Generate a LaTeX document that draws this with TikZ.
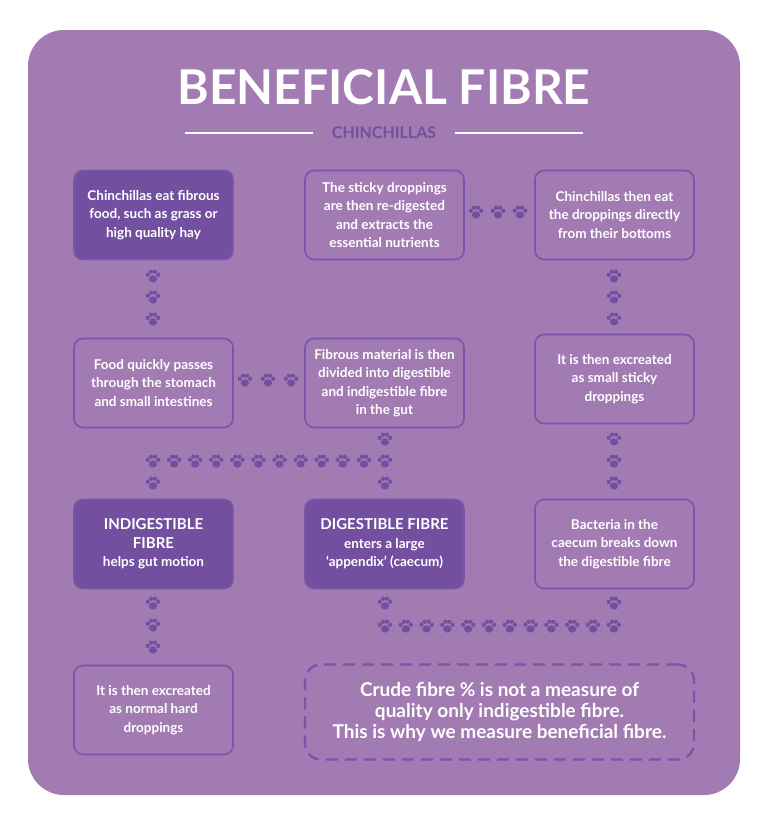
\documentclass[tikz,border=0pt]{standalone}
\usepackage{fontspec}
\setmainfont{Lato}
\definecolor{card}{HTML}{A27BB3}
\definecolor{deep}{HTML}{72509F}
\definecolor{edge}{HTML}{7A55A9}
\newcommand\bigtxt{\fontsize{15}{20}\selectfont}
\newcommand\smalltxt{\fontsize{13.5}{18.5}\selectfont}
\tikzset{
  box/.style={draw=edge, line width=1.6pt, rounded corners=9pt, minimum width=159pt,
    minimum height=89pt, align=center, text=white,
    font=\smalltxt\bfseries},
  dark/.style={box, fill=deep},
  paw/.pic={
    \fill[deep] (0,2) ellipse (4.2 and 3.6);
    \foreach \a/\b in {-5.2/-2.2, -2/-5.3, 2/-5.3, 5.2/-2.2}
      \fill[deep] (\a,\b) circle (2.1);
  }
}
\begin{document}
\begin{tikzpicture}[x=1pt,y=-1pt]
\useasboundingbox (0,0) rectangle (768,825);
\fill[white] (0,0) rectangle (768,825);
\fill[card, rounded corners=36pt] (28,30) rectangle (740,795);

% Title
\node[text=white, font=\fontsize{48}{48}\selectfont\bfseries] (title) at (384,87) {BENEFICIAL FIBRE};
\node[text=deep, font=\fontsize{16}{16}\selectfont\bfseries] (sub) at (384,133) {CHINCHILLAS};
\draw[white, line width=2pt] (185,133) -- (313,133);
\draw[white, line width=2pt] (455,133) -- (583,133);

% Boxes
\node[dark] (eat) at (153.5,215) {Chinchillas eat fibrous\\food, such as grass or\\high quality hay};
\node[box] (redig) at (384.5,215) {The sticky droppings\\are then re-digested\\and extracts the\\essential nutrients};
\node[box] (again) at (614.5,215) {Chinchillas then eat\\the droppings directly\\from their bottoms};
\node[box] (pass) at (153.5,383) {Food quickly passes\\through the stomach\\and small intestines};
\node[box] (split) at (384.5,383) {Fibrous material is then\\divided into digestible\\and indigestible fibre\\in the gut};
\node[box] (sticky) at (614.5,379) {It is then excreated\\as small sticky\\droppings};
\node[dark] (indig) at (153.5,544) {\bigtxt INDIGESTIBLE\\\bigtxt FIBRE\\\smalltxt helps gut motion};
\node[dark] (dig) at (384.5,544) {\bigtxt DIGESTIBLE FIBRE\\\smalltxt enters a large\\`appendix' (caecum)};
\node[box] (bact) at (614.5,544) {Bacteria in the\\caecum breaks down\\the digestible fibre};
\node[box] (hard) at (153.5,710) {It is then excreated\\as normal hard\\droppings};
\node[box, dashed, dash pattern=on 12pt off 7pt, line width=2.4pt, rounded corners=16pt,
  minimum width=389pt, minimum height=95pt,
  font=\fontsize{19}{21}\selectfont\bfseries] (note) at (499.5,712)
  {Crude fibre \% is not a measure of\\quality only indigestible fibre.\\This is why we measure beneficial fibre.};

% Paw trails
\foreach \y in {277,298,320} \pic at (153,\y) {paw};
\foreach \x in {245,268,291} \pic at (\x,381) {paw};
\foreach \x in {476,498,520} \pic at (\x,213) {paw};
\foreach \y in {277,298,320} \pic at (614,\y) {paw};
\foreach \y in {440,462,484} \pic at (614,\y) {paw};
\foreach \y in {440,484} \pic at (385,\y) {paw};
\pic at (153,484) {paw};
\foreach \i in {0,...,11} \pic at (153+\i*21.09,462) {paw};
\foreach \y in {604,626,648} \pic at (153,\y) {paw};
\pic at (385,604) {paw};
\pic at (614,604) {paw};
\foreach \i in {0,...,11} \pic at (385+\i*20.8,627) {paw};
\end{tikzpicture}
\end{document}
